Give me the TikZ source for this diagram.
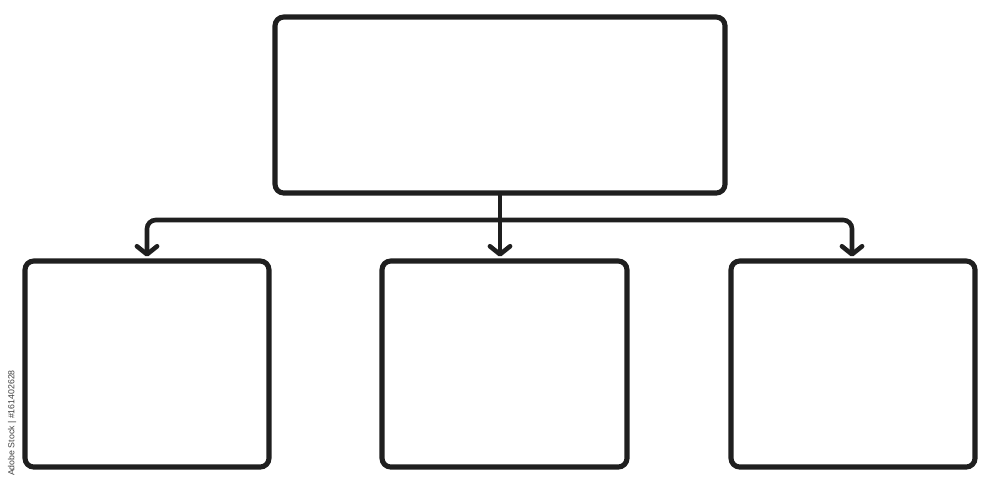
\documentclass[tikz,border=0pt]{standalone}
\usepackage{fontspec}
\setmainfont{Liberation Sans}
\usetikzlibrary{arrows.meta}
\begin{document}
\begin{tikzpicture}[x=0.02cm,y=-0.02cm,
  box/.style={draw=black!88, line width=2.9pt, rounded corners=5pt, inner sep=0pt, outer sep=0pt, fill=white},
  conn/.style={draw=black!88, line width=2.6pt, rounded corners=5pt,
    -{Straight Barb[length=4.6pt,width=11.5pt,line cap=round,line join=round]}, shorten >=2.5pt}]
\useasboundingbox (0,0) rectangle (1000,485);
\node[box, minimum width=450*0.02cm, minimum height=176*0.02cm] (top) at (500,105) {};
\node[box, minimum width=244*0.02cm, minimum height=206*0.02cm] (b1) at (147,364) {};
\node[box, minimum width=245*0.02cm, minimum height=206*0.02cm] (b2) at (504.5,364) {};
\node[box, minimum width=244*0.02cm, minimum height=206*0.02cm] (b3) at (853,364) {};
\coordinate (bar) at (500,220);
\coordinate (t1) at (147,261);
\coordinate (t2) at (500,261);
\coordinate (t3) at (852,261);
\draw[conn] (bar) -| (t1);
\draw[conn] (bar) -| (t3);
\draw[conn] (top.south) -- (t2);
\node[rotate=90, text=black!75, font=\fontsize{5pt}{6pt}\selectfont, inner sep=0pt] (id) at (12,423) {Adobe Stock | \#161402628};
\end{tikzpicture}
\end{document}
